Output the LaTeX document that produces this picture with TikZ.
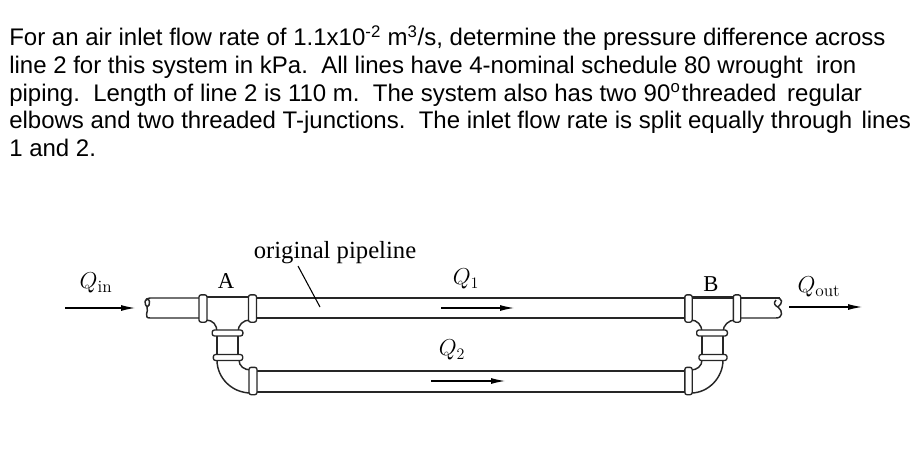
\documentclass[tikz,border=0pt]{standalone}
\usepackage{fontspec}
\newfontfamily\arialfont{Liberation Sans}
\newfontfamily\bookfont{Liberation Serif}
\usetikzlibrary{arrows.meta}
\tikzset{
  question/.style={anchor=base west,inner sep=0pt,font=\arialfont\fontsize{18}{20}\selectfont},
  label/.style={inner sep=0pt,font=\bookfont\fontsize{18.5}{20}\selectfont},
  pipe/.style={line width=1.1pt,draw=black!85},
  flangebox/.style={draw=black!85,line width=1pt,fill=white,rounded corners=1.6pt,inner sep=0pt,minimum width=#1},
  flow/.style={line width=0.8pt,-{Latex[length=10.5pt,width=4.5pt]}}
}
\begin{document}
\begin{tikzpicture}[x=0.75pt,y=-0.75pt]
  \useasboundingbox (0,0) rectangle (915,454);
  % question text
  \node[question] (line1) at (9,45.5) {For an air inlet flow rate of 1.1x10\textsuperscript{-2} m\textsuperscript{3}/s, determine the pressure difference across};
  \node[question] (line2) at (9,73) {line 2 for this system in kPa.\ \ All lines have 4-nominal schedule 80 wrought\hspace{5pt} iron};
  \node[question] (line3) at (9,101) {piping.\ \ Length of line 2 is 110 m.\ \ The system also has two 90\textsuperscript{o}\hspace{1pt}threaded\hspace{8pt}regular};
  \node[question] (line4) at (9,128.5) {elbows and two threaded T-junctions.\ \ The inlet flow rate is split equally through\hspace{7pt}lines};
  \node[question] (line5) at (9,156) {1 and 2.};
  % pipe walls
  \begin{scope}[pipe]
    \draw (203,298) -- (150,298) .. controls (144,298) and (144,304) .. (147,307) .. controls (149,311) and (143,318) .. (150,318) -- (203,318);
    \draw (146,300) .. controls (150,296) and (151,306) .. (147,307);
    \draw (203,297) -- (253,297);
    \draw (253,298) -- (780,298);
    \draw (253,318) -- (691,318);
    \draw (737,298) -- (776,298) .. controls (783,298) and (783,303) .. (778,307) .. controls (783,311) and (783,318) .. (776,318) -- (737,318);
    \draw (776,300) .. controls (773,303) and (775,306) .. (778,307);
    \draw (206,320) .. controls (213,320) and (217,325) .. (217,332);
    \draw (250,320) .. controls (243,320) and (238,325) .. (238,332);
    \draw (217,333) -- (217,358);
    \draw (238,333) -- (238,358);
    \draw (217,360) .. controls (217,378) and (232,393) .. (251,393);
    \draw (239,360) .. controls (239,366) and (244,370) .. (251,370);
    \draw (253,371) -- (689,371);
    \draw (253,392) -- (689,392);
    \draw (691,370) .. controls (697,370) and (702,366) .. (702,360);
    \draw (723,360) .. controls (723,378) and (708,393) .. (691,393);
    \draw (702,333) -- (702,358);
    \draw (723,333) -- (723,358);
    \draw (691,320) .. controls (697,320) and (702,325) .. (702,332);
    \draw (735,320) .. controls (729,320) and (723,325) .. (723,332);
    \draw (689,297) -- (737,297);
  \end{scope}
  % flanges
  \node[flangebox=6pt,minimum height=20.5pt] (flangeA1) at (203,308.5) {};
  \node[flangebox=6pt,minimum height=20.5pt] (flangeA2) at (252.5,308.5) {};
  \node[flangebox=23pt,minimum height=4.4pt] (flangeA3) at (227.5,333) {};
  \node[flangebox=22pt,minimum height=4.4pt] (flangeA4) at (228,357.5) {};
  \node[flangebox=6pt,minimum height=20.5pt] (flangeA5) at (253,381) {};
  \node[flangebox=5.5pt,minimum height=20.5pt] (flangeB1) at (688.5,308.5) {};
  \node[flangebox=5.5pt,minimum height=20.5pt] (flangeB2) at (737,308.5) {};
  \node[flangebox=23pt,minimum height=4.4pt] (flangeB3) at (712,333) {};
  \node[flangebox=21pt,minimum height=4.4pt] (flangeB4) at (713,357.5) {};
  \node[flangebox=5.5pt,minimum height=20.5pt] (flangeB5) at (688.5,381) {};
  % labels
  \node[label] (origpipe) at (335,252.5) {original pipeline};
  \node[label] (qin) at (96,283) {$Q_{\mathrm{in}}$};
  \node[label,font=\bookfont\fontsize{17}{20}\selectfont] (pointA) at (226,281) {A};
  \node[label] (qone) at (466,279) {$Q_1$};
  \node[label,font=\bookfont\fontsize{17}{20}\selectfont] (pointB) at (711,284) {B};
  \node[label] (qout) at (819,287) {$Q_{\mathrm{out}}$};
  \node[label] (qtwo) at (452,350) {$Q_2$};
  % flow arrows
  \coordinate (inS) at (65,308);
  \coordinate (inE) at (135,308);
  \coordinate (oneS) at (441,308);
  \coordinate (oneE) at (514,308);
  \coordinate (twoS) at (431,381);
  \coordinate (twoE) at (505,381);
  \coordinate (outS) at (789,307);
  \coordinate (outE) at (862,307);
  \coordinate (pipetip) at (320,307);
  \draw[flow] (inS) to (inE);
  \draw[flow] (oneS) to (oneE);
  \draw[flow] (twoS) to (twoE);
  \draw[flow] (outS) to (outE);
  \draw[line width=0.8pt] (298,266) to (pipetip);
\end{tikzpicture}
\end{document}
